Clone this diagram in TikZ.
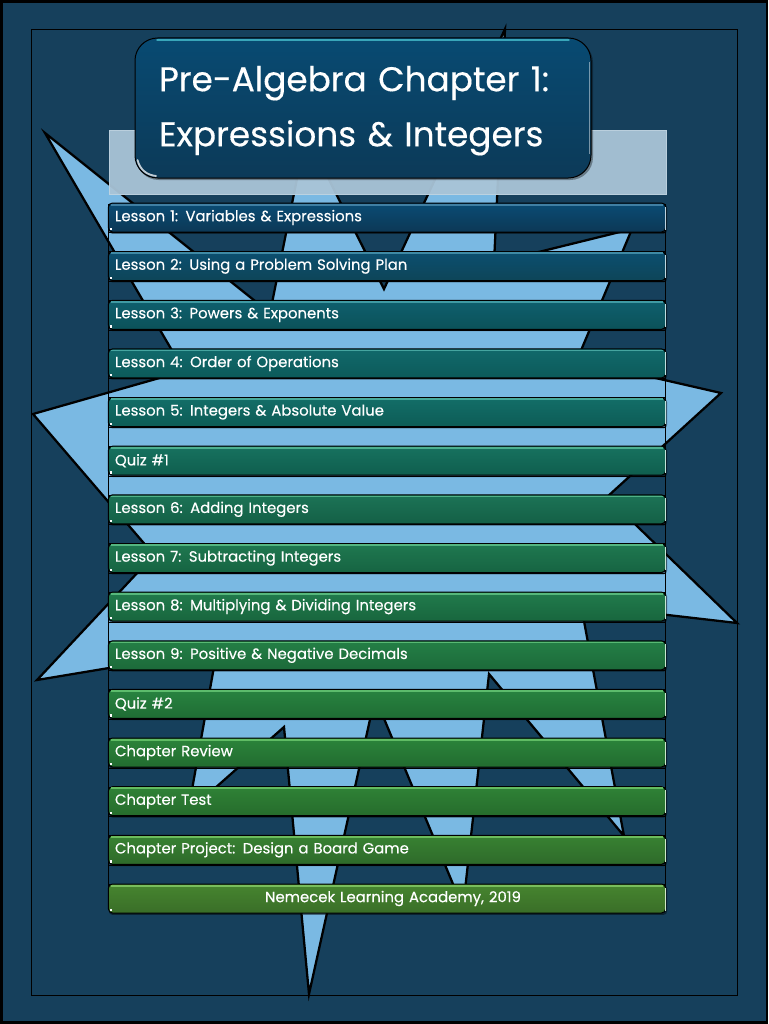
\documentclass[tikz,border=0pt]{standalone}
\usepackage{fontspec}
\setmainfont{Poppins}[FakeBold=0.35]
\usetikzlibrary{calc}
\definecolor{bgc}{HTML}{16405C}
\definecolor{starc}{HTML}{7AB9E3}
\definecolor{panelc}{HTML}{A9C4D7}
\definecolor{titletop}{HTML}{084A72}
\definecolor{titlebot}{HTML}{0C3A58}
\newcommand{\lessonbar}[7][]{%
  % options, name, centre y, top colour, bottom colour, highlight colour, text
  \definecolor{ctop}{HTML}{#4}\definecolor{cbot}{HTML}{#5}\definecolor{chi}{HTML}{#6}%
  \fill[black,opacity=.45,rounded corners=2.5pt] (109,#3-13.5) rectangle (667,#3+16.3);
  \node[barbox,top color=ctop,bottom color=cbot,#1] (#2) at (387,#3) {\raisebox{.6pt}{#7}};
  \fill[chi] ($(#2.north west)+(3,1.2)$) rectangle ($(#2.north east)+(-3,3)$);
  \fill[white!65!chi] ($(#2.north east)+(-1.3,4)$) rectangle ($(#2.south east)+(-.3,-3)$);
  \fill[white] ($(#2.south west)+(2,-4.5)$) rectangle ($(#2.south west)+(4.5,-2.2)$);
}
\tikzset{
  x=0.75pt,y=-0.75pt,
  barbox/.style={draw=black,line width=.75pt,rounded corners=3pt,minimum width=417.75pt,minimum height=21.75pt,
    inner xsep=4.9pt,inner ysep=0pt,text width=408pt,align=left,text=white,font=\fontsize{11.15pt}{12pt}\selectfont},
  centrebar/.style={align=center},
  spiky/.style={fill=starc,draw=black,line width=1.7pt,line join=miter},
  framelines/.style={draw=black,line width=.75pt},
  titlebox/.style={draw=black,line width=.75pt,rounded corners=17pt,top color=titletop,bottom color=titlebot,
    minimum width=342pt,minimum height=105pt,inner xsep=18pt,inner ysep=0pt,text width=306pt,align=left,text=white,
    font=\fontsize{25.7pt}{41.25pt}\selectfont},
}
\begin{document}
\begin{tikzpicture}
\useasboundingbox (0,0) rectangle (768,1024);
\fill[black] (0,0) rectangle (768,1024);
\fill[bgc] (3,3) rectangle (765.5,1020.5);
\draw[black,line width=.7pt] (31.5,29.5) rectangle (737.5,995);
% star
\draw[spiky] (505,29) -- (494,263) -- (632,229) -- (577,360) -- (721,393) -- (607,497)
  -- (737,623) -- (581,605) -- (624,836) -- (489,674) -- (463,908) -- (375,697)
  -- (309,994) -- (284,727) -- (188,812) -- (217,650) -- (37,680) -- (154,555)
  -- (33,414) -- (184,371) -- (45,133) -- (270,313) -- (306,134) -- (384,289) -- cycle;
% table frame behind bars
\draw[framelines] (108.5,204) rectangle (665.5,899);
\foreach \yy in {232.5,251.5,281,300,330,349,378.5,397.5,427,446,476,495,524,543.5,573,592,622,641,670,689,719,738,768,787,816,835.5,865,884}
  \draw[framelines] (108.5,\yy) -- (665.5,\yy);
% translucent panel
\fill[panelc,opacity=.95] (109,130) rectangle (667,195);
\draw[white!40!panelc,line width=.6pt,opacity=.6] (109.5,130.5) rectangle (666.5,194.5);
% bars
\lessonbar{l1}{217.5}{0A4C74}{0C3856}{3F7FA3}{Lesson 1: Variables \& Expressions}
\lessonbar{l2}{266.1}{0C4F70}{0D4558}{3F8AA5}{Lesson 2: Using a Problem Solving Plan}
\lessonbar{l3}{314.8}{0F5F6E}{0B5259}{3F9AA3}{Lesson 3: Powers \& Exponents}
\lessonbar{l4}{363.4}{11696B}{0C5A5A}{45A5A0}{Lesson 4: Order of Operations}
\lessonbar{l5}{412.1}{136E68}{0D5C56}{48AA9C}{Lesson 5: Integers \& Absolute Value}
\lessonbar{q1}{460.7}{17725F}{0F5E4E}{4CB090}{Quiz \#1}
\lessonbar{l6}{509.3}{1C7356}{146046}{50B288}{Lesson 6: Adding Integers}
\lessonbar{l7}{558.0}{1F7850}{166442}{54B580}{Lesson 7: Subtracting Integers}
\lessonbar{l8}{606.6}{217B4C}{18663E}{56B87C}{Lesson 8: Multiplying \& Dividing Integers}
\lessonbar{l9}{655.3}{247F46}{1C6A3A}{58BA74}{Lesson 9: Positive \& Negative Decimals}
\lessonbar{q2}{703.9}{288440}{1F6C34}{5CBC6C}{Quiz \#2}
\lessonbar{cr}{752.5}{2B843A}{226C30}{60BC64}{Chapter Review}
\lessonbar{ct}{801.2}{2F8236}{266C2C}{64BC60}{Chapter Test}
\lessonbar{cp}{849.8}{388232}{2E6A2A}{6CBC5C}{Chapter Project: Design a Board Game}
\lessonbar[centrebar]{na}{898.5}{46852F}{3A6E28}{78BE5C}{\hspace*{9pt}Nemecek Learning Academy, 2019}
% title
\fill[black,opacity=.35,rounded corners=17pt] (136,40) rectangle (593,180);
\node[titlebox] (title) at (363,108) {\rule{0pt}{23pt}Pre-Algebra Chapter 1:\\Expressions \& Integers};
\draw[white!30!titletop!70!cyan,line width=1.1pt,line cap=round] (157,39.8) -- (569,39.8);
\draw[white,line width=1.4pt,line cap=round,opacity=.75] (137.5,160) .. controls (140,170) and (147,175) .. (156,176);
\draw[white,line width=.8pt,opacity=.45] (589.6,62) -- (589.6,154);
\end{tikzpicture}
\end{document}
